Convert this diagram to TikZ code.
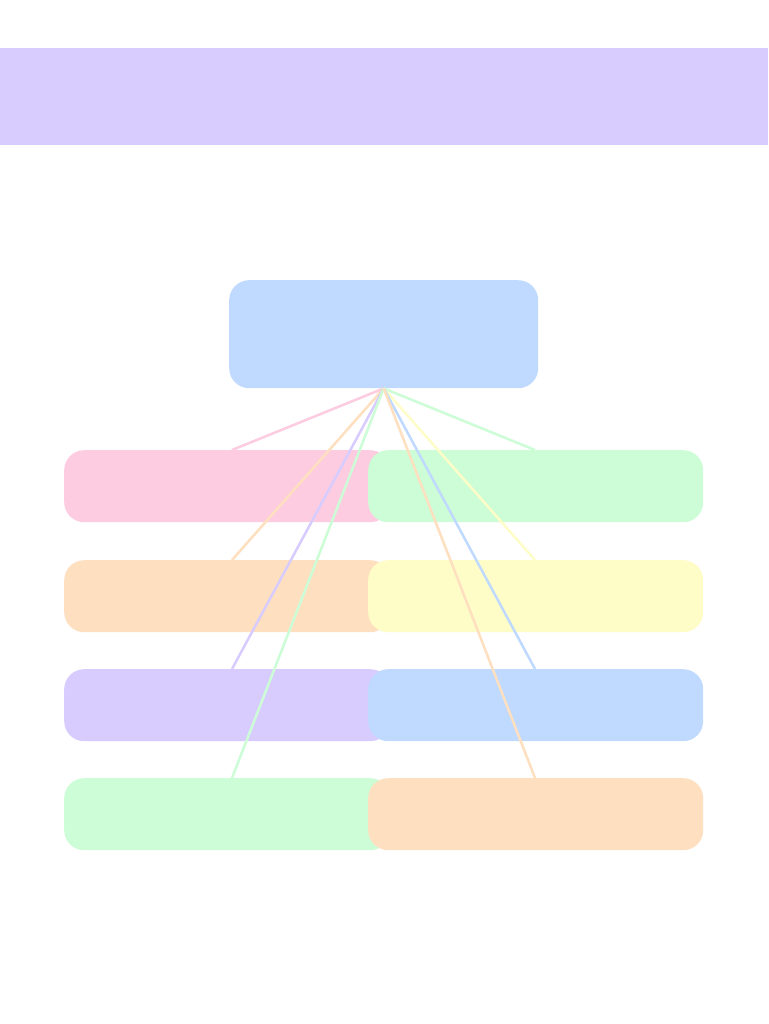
\documentclass[tikz,border=0pt]{standalone}
\definecolor{cpink}{RGB}{253,204,224}
\definecolor{cgreen}{RGB}{204,253,214}
\definecolor{corange}{RGB}{254,224,192}
\definecolor{cyellow}{RGB}{254,253,200}
\definecolor{cpurple}{RGB}{216,204,255}
\definecolor{cblue}{RGB}{192,217,255}
\tikzset{
  box/.style={rounded corners=20pt, inner sep=0pt, anchor=north west, draw=none},
  leftbox/.style={box, minimum width=326pt, minimum height=72pt},
  rightbox/.style={box, minimum width=335pt, minimum height=72pt},
  link/.style={line width=2.5pt}
}
\begin{document}
\begin{tikzpicture}[x=1pt,y=-1pt]
\useasboundingbox (0,0) rectangle (768,1024);
\fill[white] (0,0) rectangle (768,1024);
\node[box, fill=cpurple, rounded corners=0pt, minimum width=768pt, minimum height=97pt] (banner) at (0,48) {};
\node[box, fill=cblue, minimum width=309pt, minimum height=108pt] (root) at (229,280) {};
\node[leftbox, fill=cpink] (l1) at (64,450) {};
\node[leftbox, fill=corange] (l2) at (64,560) {};
\node[leftbox, fill=cpurple] (l3) at (64,669) {};
\node[leftbox, fill=cgreen] (l4) at (64,778) {};
\node[rightbox, fill=cgreen] (r1) at (368,450) {};
\node[rightbox, fill=cyellow] (r2) at (368,560) {};
\node[rightbox, fill=cblue] (r3) at (368,669) {};
\node[rightbox, fill=corange] (r4) at (368,778) {};
\coordinate (t1) at (232,450);
\coordinate (t2) at (232,560);
\coordinate (t3) at (232,669);
\coordinate (t4) at (232,778);
\coordinate (u1) at (535,450);
\coordinate (u2) at (535,560);
\coordinate (u3) at (535,669);
\coordinate (u4) at (535,778);
\draw[link, cpink] (root.south) -- (t1);
\draw[link, cgreen] (root.south) -- (u1);
\draw[link, corange] (root.south) -- (t2);
\draw[link, cyellow] (root.south) -- (u2);
\draw[link, cpurple] (root.south) -- (t3);
\draw[link, cblue] (root.south) -- (u3);
\draw[link, cgreen] (root.south) -- (t4);
\draw[link, corange] (root.south) -- (u4);
\end{tikzpicture}
\end{document}
